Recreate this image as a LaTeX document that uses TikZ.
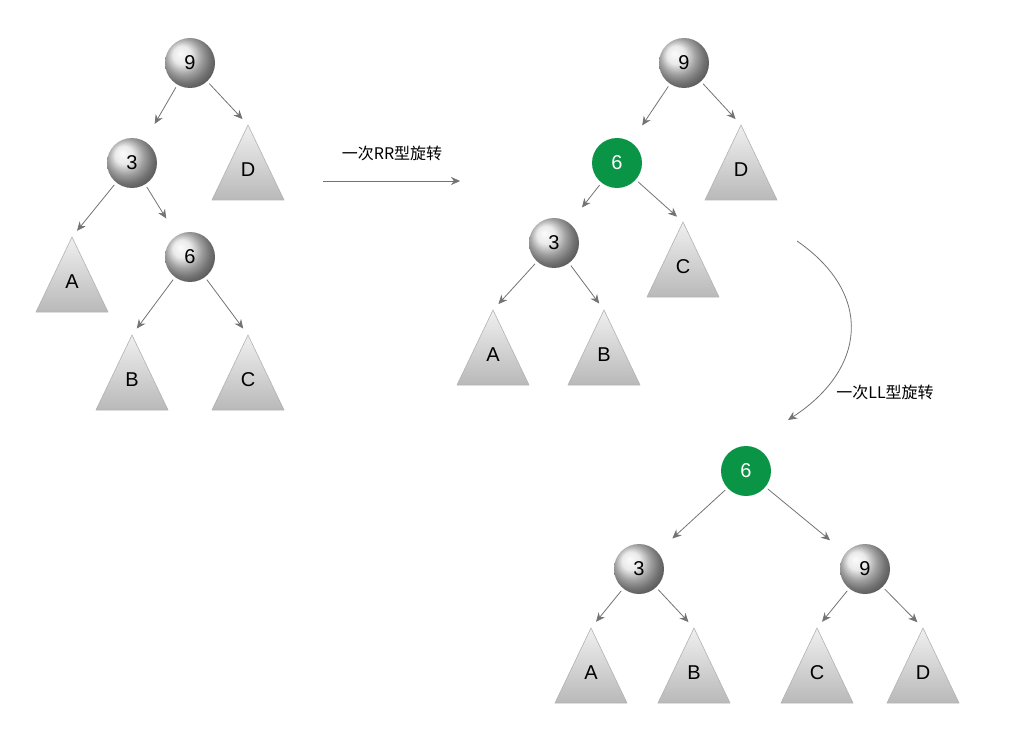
\documentclass[tikz,border=0pt]{standalone}
\usepackage{fontspec}
\setmainfont{Liberation Sans}
\newfontfamily\cjk{Noto Sans CJK SC}
\usetikzlibrary{arrows.meta}
\definecolor{avlgreen}{HTML}{0A9445}
\tikzset{
	ball/.style = {circle, minimum size=50pt, inner sep=0pt, shading=ball, ball color=gray!22, font=\fontsize{20}{20}\selectfont},
	hot/.style = {circle, minimum size=50pt, inner sep=0pt, fill=avlgreen, text=white, font=\fontsize{20}{20}\selectfont},
	arr/.style = {-{Stealth[length=9pt,width=8pt]}, thick, gray!90!black, shorten <=3pt, shorten >=20pt},
	arrt/.style = {-{Stealth[length=9pt,width=8pt]}, thick, gray!90!black, shorten <=3pt, shorten >=8pt},
	lbl/.style = {font=\cjk\fontsize{16}{16}\selectfont}
}
% triangle subtree: name, x, top y, label
\newcommand{\subtree}[4]{
	\shade[top color=gray!12, bottom color=gray!55, draw=gray!60, line width=0.6pt]
		(#2,#3) -- (#2-36,#3+75) -- (#2+36,#3+75) -- cycle;
	\coordinate (#1t) at (#2,#3);
	\node[font=\fontsize{20}{20}\selectfont] (#1) at (#2,#3+45) {#4};
}
\begin{document}
\begin{tikzpicture}[x=1pt, y=-1pt]
	\useasboundingbox (0,0) rectangle (1012,754);

	% before
	\node[ball] (a9) at (190,63) {9};
	\node[ball] (a3) at (132,163) {3};
	\node[ball] (a6) at (190,257) {6};
	\subtree{aD}{248}{125}{D}
	\subtree{aA}{72}{237}{A}
	\subtree{aB}{132}{335}{B}
	\subtree{aC}{248}{335}{C}
	\draw[arr] (a9) -- (a3);
	\draw[arrt] (a9) -- (aDt);
	\draw[arrt] (a3) -- (aAt);
	\draw[arr] (a3) -- (a6);
	\draw[arrt] (a6) -- (aBt);
	\draw[arrt] (a6) -- (aCt);

	% after RR
	\node[ball] (b9) at (684,63) {9};
	\node[hot] (b6) at (617,163) {6};
	\node[ball] (b3) at (554,243) {3};
	\subtree{bD}{741}{125}{D}
	\subtree{bC}{683}{222}{C}
	\subtree{bA}{493}{310}{A}
	\subtree{bB}{604}{310}{B}
	\draw[arr] (b9) -- (b6);
	\draw[arrt] (b9) -- (bDt);
	\draw[arr] (b6) -- (b3);
	\draw[arrt] (b6) -- (bCt);
	\draw[arrt] (b3) -- (bAt);
	\draw[arrt] (b3) -- (bBt);

	% after LL
	\node[hot] (c6) at (746,471) {6};
	\node[ball] (c3) at (639,569) {3};
	\node[ball] (c9) at (865,569) {9};
	\subtree{cA}{591}{628}{A}
	\subtree{cB}{694}{628}{B}
	\subtree{cC}{817}{628}{C}
	\subtree{cD}{923}{628}{D}
	\draw[arr] (c6) -- (c3);
	\draw[arr] (c6) -- (c9);
	\draw[arrt] (c3) -- (cAt);
	\draw[arrt] (c3) -- (cBt);
	\draw[arrt] (c9) -- (cCt);
	\draw[arrt] (c9) -- (cDt);

	% rotations
	\coordinate (rr1) at (323,181);
	\coordinate (rr2) at (460,181);
	\draw[arr, shorten <=0pt, shorten >=0pt, thin] (rr1) -- (rr2);
	\node[lbl] (rrl) at (392,153) {一次RR型旋转};
	\coordinate (ll1) at (797,241);
	\coordinate (ll2) at (788,420);
	\draw[arr, shorten <=0pt, shorten >=0pt] (ll1) .. controls (875,295) and (865,370) .. (ll2);
	\node[lbl] (lll) at (885,392) {一次LL型旋转};
\end{tikzpicture}
\end{document}
